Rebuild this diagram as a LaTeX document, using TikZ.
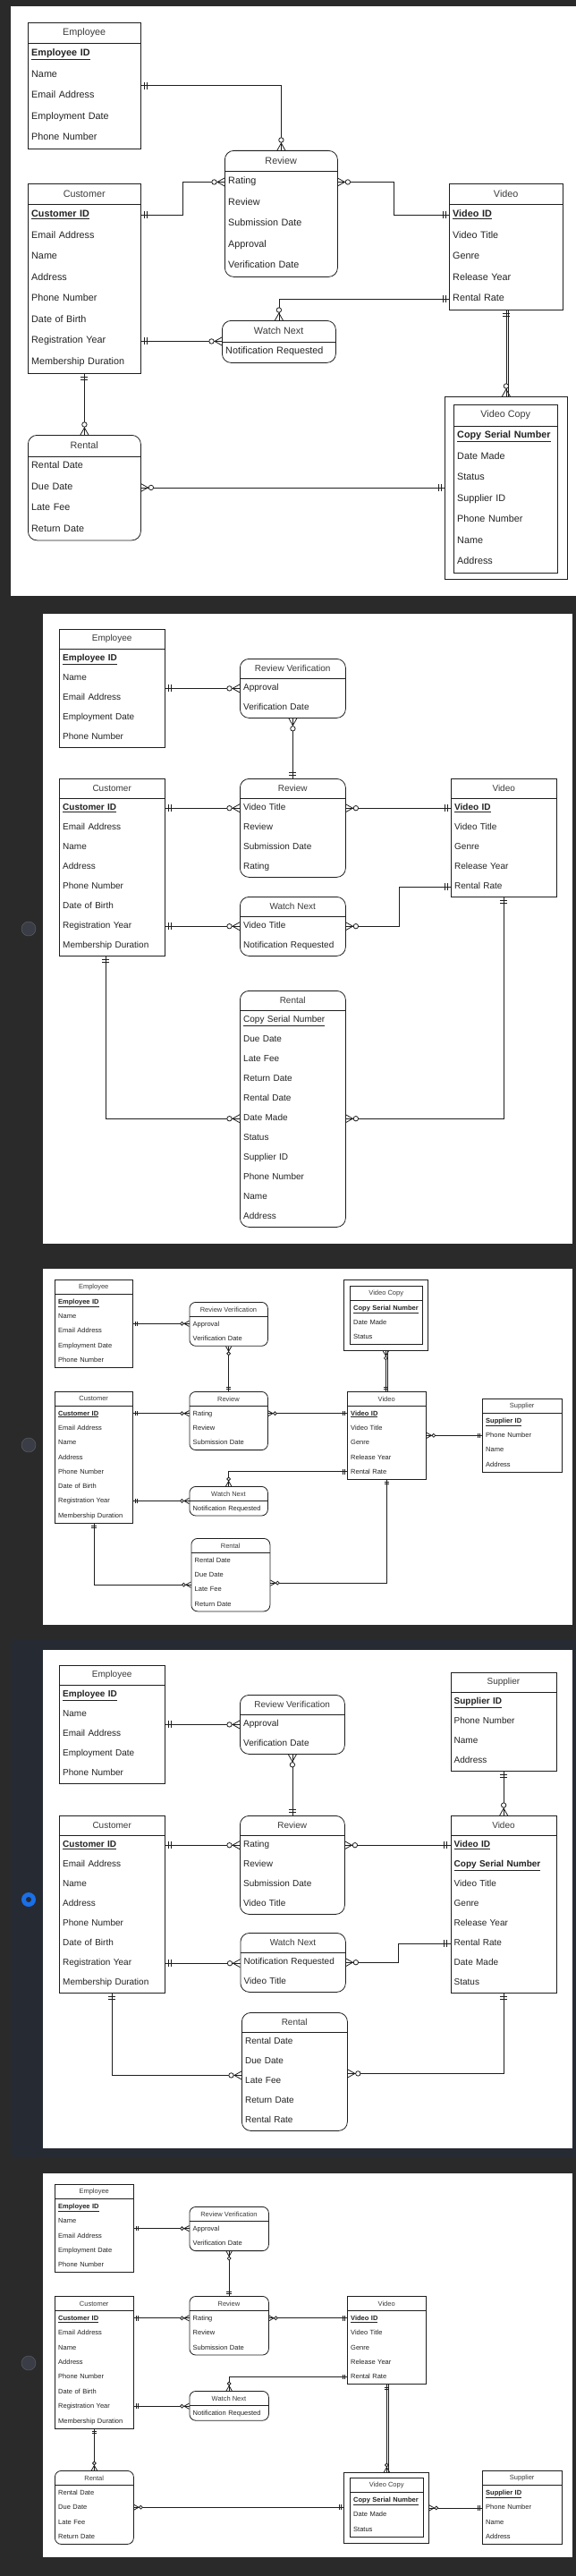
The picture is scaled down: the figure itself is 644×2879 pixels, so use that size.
\documentclass[tikz,border=0pt]{standalone}
\usepackage{fontspec}
\setmainfont{Liberation Sans}
\usetikzlibrary{decorations.markings}
\definecolor{canvas}{HTML}{2A2A2A}
\definecolor{hilite}{HTML}{262A33}
\definecolor{dotc}{HTML}{3A3D45}
\definecolor{radio}{HTML}{1B6FE6}
\definecolor{linec}{HTML}{1E1E1E}
\definecolor{ink}{HTML}{222222}
\definecolor{hdrink}{HTML}{3A3A3A}
\newcommand{\mks}{1}
\newcommand{\pk}[1]{\underline{\textbf{#1}}}
\tikzset{
  ent/.style={draw=linec,line width=0.8pt,anchor=north west,inner sep=0pt},
  soft/.style={rounded corners=#1},
  soft/.default=10pt,
  hdr/.style={anchor=north west,inner sep=0pt,text=hdrink},
  row/.style={anchor=north west,inner xsep=4pt,inner ysep=0pt,align=left,text=ink,
    text height=0.75em,text depth=0.25em},
  link/.style={draw=linec,line width=0.8pt},
  mkline/.style={draw=linec,line width=0.8pt},
  onefrom/.style={postaction={decorate,decoration={markings,
    mark=at position 4pt*\mks with {\draw[mkline] (0pt,-4pt*\mks) -- (0pt,4pt*\mks);},
    mark=at position 7pt*\mks with {\draw[mkline] (0pt,-4pt*\mks) -- (0pt,4pt*\mks);}}}},
  oneto/.style={postaction={decorate,decoration={markings,
    mark=at position -7pt*\mks with {\draw[mkline] (0pt,-4pt*\mks) -- (0pt,4pt*\mks);},
    mark=at position -4pt*\mks with {\draw[mkline] (0pt,-4pt*\mks) -- (0pt,4pt*\mks);}}}},
  manyfrom/.style={postaction={decorate,decoration={markings,
    mark=at position 8pt*\mks with {\draw[mkline] (-8pt*\mks,4.5pt*\mks) -- (0pt,0pt) -- (-8pt*\mks,-4.5pt*\mks);},
    mark=at position 11.5pt*\mks with {\draw[mkline,fill=white] (0pt,0pt) circle[radius=2.7pt*\mks];}}}},
  manyto/.style={postaction={decorate,decoration={markings,
    mark=at position -11.5pt*\mks with {\draw[mkline,fill=white] (0pt,0pt) circle[radius=2.7pt*\mks];},
    mark=at position -8pt*\mks with {\draw[mkline] (8pt*\mks,4.5pt*\mks) -- (0pt,0pt) -- (8pt*\mks,-4.5pt*\mks);}}}},
}
% entity box: [style] name, x, y, width, row height, title, rows
\newcommand{\erbox}[8][]{%
  \foreach \rowtxt [count=\i] in {#8} {\xdef\ern{\i}}
  \pgfmathsetmacro\erh{(\ern+1)*#6}
  \pgfmathsetmacro\erw{#5-8}
  \node[ent,#1,minimum width=#5pt,minimum height=\erh pt] (#2) at (#3,#4) {};
  \node[hdr,minimum width=#5pt,minimum height=#6pt] (#2-h) at (#3,#4) {#7};
  \draw[link] (#2-h.south west) -- (#2-h.south east);
  \foreach \rowtxt [count=\i] in {#8}
    \node[row,text width=\erw pt,minimum height=#6pt] (#2-\i) at (#3,{#4+\i*#6}) {\mbox{\rowtxt}};
}

\begin{document}
\begin{tikzpicture}[x=1pt,y=-1pt]
  \useasboundingbox (0,0) rectangle (644,2879);
  \fill[canvas] (0,0) rectangle (644,2879);
  \fill[hilite] (12,1832) rectangle (644,2412);
  \foreach \y in {1038,1615,2641} \filldraw[fill=dotc,draw=dotc!80!white] (32,\y) circle[radius=8pt];
  \fill[radio] (32,2123) circle[radius=8pt];
  \fill[hilite] (32,2123) circle[radius=3pt];

  % first draft
  \begin{scope}[font=\fontsize{10.8}{13}\selectfont]
    \fill[white] (12,7) rectangle (644,666);
    \erbox{emp1}{31}{25}{126}{23.5}{Employee}{\pk{Employee ID},Name,Email Address,Employment Date,Phone Number}
    \erbox{cust1}{31}{205}{126}{23.5}{Customer}{\pk{Customer ID},Email Address,Name,Address,Phone Number,Date of Birth,Registration Year,Membership Duration}
    \erbox[soft]{rev1}{251}{168}{126}{23.5}{Review}{Rating,Review,Submission Date,Approval,Verification Date}
    \erbox{vid1}{502}{205}{127}{23.5}{Video}{\pk{Video ID},Video Title,Genre,Release Year,Rental Rate}
    \erbox[soft]{wn1}{248}{358}{127}{23.5}{Watch Next}{Notification Requested}
    \erbox[soft]{rent1}{31}{486}{126}{23.5}{Rental}{Rental Date,Due Date,Late Fee,Return Date}
    \node[ent,minimum width=137pt,minimum height=204pt] (vco1) at (497,443) {};
    \erbox{vc1}{507}{452}{116}{23.5}{Video Copy}{\pk{Copy Serial Number},Date Made,Status,Supplier ID,Phone Number,Name,Address}

    \draw[link,onefrom,manyto] (emp1.east) -| (rev1.north);
    \draw[link,onefrom,manyto] (cust1-1.east) -- ++(47,0) |- (rev1-1.west);
    \draw[link,manyfrom,oneto] (rev1-1.east) -- ++(63,0) |- (vid1-1.west);
    \draw[link,manyfrom,oneto] (wn1.north) |- (vid1-5.west);
    \draw[link,onefrom,manyto] (cust1-7.east) -- (cust1-7.east -| wn1.west);
    \draw[link,onefrom,manyto] (cust1.south) -- (rent1.north);
    \draw[link,manyfrom,oneto] (rent1-2.east) -- (rent1-2.east -| vco1.west);
    \draw[link,onefrom,manyto] (vid1.south) -- (vco1.north);
    \draw[link] ([xshift=2pt]vid1.south) -- ([xshift=2pt]vco1.north);
  \end{scope}

  % second draft
  \begin{scope}[font=\fontsize{10}{12}\selectfont]
    \fill[white] (48,686) rectangle (640,1390);
    \erbox{emp2}{66}{703}{118}{22}{Employee}{\pk{Employee ID},Name,Email Address,Employment Date,Phone Number}
    \erbox[soft]{rv2}{268}{736}{118}{22}{Review Verification}{Approval,Verification Date}
    \erbox{cust2}{66}{870}{118}{22}{Customer}{\pk{Customer ID},Email Address,Name,Address,Phone Number,Date of Birth,Registration Year,Membership Duration}
    \erbox[soft]{rev2}{268}{870}{118}{22}{Review}{Video Title,Review,Submission Date,Rating}
    \erbox{vid2}{504}{870}{118}{22}{Video}{\pk{Video ID},Video Title,Genre,Release Year,Rental Rate}
    \erbox[soft]{wn2}{268}{1002}{118}{22}{Watch Next}{Video Title,Notification Requested}
    \erbox[soft]{rent2}{268}{1107}{118}{22}{Rental}{\underline{Copy Serial Number},Due Date,Late Fee,Return Date,Rental Date,Date Made,Status,Supplier ID,Phone Number,Name,Address}

    \draw[link,onefrom,manyto] (emp2.east) -- (emp2.east -| rv2.west);
    \draw[link,manyfrom,oneto] (rv2.south) -- (rev2.north);
    \draw[link,onefrom,manyto] (cust2-1.east) -- (rev2-1.west);
    \draw[link,manyfrom,oneto] (rev2-1.east) -- (vid2-1.west);
    \draw[link,manyfrom,oneto] (wn2-1.east) -- ++(60,0) |- (vid2-5.west);
    \draw[link,onefrom,manyto] (cust2-7.east) -- (wn2-1.west);
    \draw[link,onefrom,manyto] ([xshift=-7pt]cust2.south) |- (rent2-6.west);
    \draw[link,onefrom,manyto] (vid2.south) |- (rent2-6.east);
  \end{scope}

  % third draft
  \begin{scope}[font=\fontsize{7.5}{9}\selectfont]
    \renewcommand{\mks}{0.7}
    \fill[white] (48,1418) rectangle (640,1816);
    \erbox{emp3}{61}{1430}{87}{16.3}{Employee}{\pk{Employee ID},Name,Email Address,Employment Date,Phone Number}
    \erbox[soft=7pt]{rv3}{211.5}{1455}{87.5}{16.3}{Review Verification}{Approval,Verification Date}
    \node[ent,minimum width=94pt,minimum height=79pt] (vco3) at (384,1430) {};
    \erbox{vc3}{391}{1437}{81}{16.3}{Video Copy}{\pk{Copy Serial Number},Date Made,Status}
    \erbox{cust3}{61}{1555}{87}{16.3}{Customer}{\pk{Customer ID},Email Address,Name,Address,Phone Number,Date of Birth,Registration Year,Membership Duration}
    \erbox[soft=7pt]{rev3}{211.5}{1555}{87.5}{16.3}{Review}{Rating,Review,Submission Date}
    \erbox{vid3}{388}{1555}{88}{16.3}{Video}{\pk{Video ID},Video Title,Genre,Release Year,Rental Rate}
    \erbox{sup3}{539}{1563}{89}{16.3}{Supplier}{\pk{Supplier ID},Phone Number,Name,Address}
    \erbox[soft=7pt]{wn3}{211.5}{1661}{87.5}{16.3}{Watch Next}{Notification Requested}
    \erbox[soft=7pt]{rent3}{213.5}{1719}{88}{16.3}{Rental}{Rental Date,Due Date,Late Fee,Return Date}

    \draw[link,onefrom,manyto] (emp3.east) -- (emp3.east -| rv3.west);
    \draw[link,manyfrom,oneto] (rv3.south) -- (rv3.south |- rev3.north);
    \draw[link,onefrom,manyto] (cust3-1.east) -- (rev3-1.west);
    \draw[link,manyfrom,oneto] (rev3-1.east) -- (vid3-1.west);
    \draw[link,manyfrom,oneto] (vco3.south) -- (vco3.south |- vid3.north);
    \draw[link] ([xshift=1.5pt]vco3.south) -- ([xshift=1.5pt]vco3.south |- vid3.north);
    \draw[link,manyfrom,oneto] (vid3.east) -- (vid3.east -| sup3.west);
    \draw[link,manyfrom,oneto] (wn3.north) |- (vid3-5.west);
    \draw[link,onefrom,manyto] (cust3-7.east) -- (cust3-7.east -| wn3.west);
    \draw[link,onefrom,manyto] (cust3.south) |- ([yshift=-11pt]rent3.west);
    \draw[link,onefrom,manyto] (vid3.south) |- ([yshift=-9pt]rent3.east);
  \end{scope}

  % fourth draft
  \begin{scope}[font=\fontsize{10}{12}\selectfont]
    \fill[white] (48,1844) rectangle (640,2401);
    \erbox{emp4}{66}{1861}{118}{22}{Employee}{\pk{Employee ID},Name,Email Address,Employment Date,Phone Number}
    \erbox[soft]{rv4}{268}{1894}{117}{22}{Review Verification}{Approval,Verification Date}
    \erbox{sup4}{503.5}{1869}{118.5}{22}{Supplier}{\pk{Supplier ID},Phone Number,Name,Address}
    \erbox{cust4}{66}{2029}{118}{22}{Customer}{\pk{Customer ID},Email Address,Name,Address,Phone Number,Date of Birth,Registration Year,Membership Duration}
    \erbox[soft]{rev4}{268}{2029}{117}{22}{Review}{Rating,Review,Submission Date,Video Title}
    \erbox{vid4}{503.5}{2029}{118.5}{22}{Video}{\pk{Video ID},\pk{Copy Serial Number},Video Title,Genre,Release Year,Rental Rate,Date Made,Status}
    \erbox[soft]{wn4}{268.5}{2160}{117.5}{22}{Watch Next}{Notification Requested,Video Title}
    \erbox[soft]{rent4}{270}{2249}{118}{22}{Rental}{Rental Date,Due Date,Late Fee,Return Date,Rental Rate}

    \draw[link,onefrom,manyto] (emp4.east) -- (emp4.east -| rv4.west);
    \draw[link,manyfrom,oneto] (rv4.south) -- (rv4.south |- rev4.north);
    \draw[link,onefrom,manyto] (sup4.south) -- (sup4.south |- vid4.north);
    \draw[link,onefrom,manyto] (cust4-1.east) -- (rev4-1.west);
    \draw[link,manyfrom,oneto] (rev4-1.east) -- (vid4-1.west);
    \draw[link,manyfrom,oneto] (wn4-1.east) -- ++(59,0) |- (vid4-6.west);
    \draw[link,onefrom,manyto] (cust4-7.east) -- (cust4-7.east -| wn4.west);
    \draw[link,onefrom,manyto] (cust4.south) |- ([yshift=-4pt]rent4.west);
    \draw[link,onefrom,manyto] (vid4.south) |- ([yshift=-2pt]rent4.east);
  \end{scope}

  % fifth draft
  \begin{scope}[font=\fontsize{7.5}{9}\selectfont]
    \renewcommand{\mks}{0.7}
    \fill[white] (48,2429) rectangle (640,2858);
    \erbox{emp5}{61}{2441}{88}{16.4}{Employee}{\pk{Employee ID},Name,Email Address,Employment Date,Phone Number}
    \erbox[soft=7pt]{rv5}{211.5}{2466}{88.5}{16.4}{Review Verification}{Approval,Verification Date}
    \erbox{cust5}{61}{2566}{88}{16.4}{Customer}{\pk{Customer ID},Email Address,Name,Address,Phone Number,Date of Birth,Registration Year,Membership Duration}
    \erbox[soft=7pt]{rev5}{211.5}{2566}{88.5}{16.4}{Review}{Rating,Review,Submission Date}
    \erbox{vid5}{388}{2566}{88}{16.4}{Video}{\pk{Video ID},Video Title,Genre,Release Year,Rental Rate}
    \erbox[soft=7pt]{wn5}{211.5}{2672}{88.5}{16.4}{Watch Next}{Notification Requested}
    \erbox[soft=7pt]{rent5}{61}{2761}{88}{16.4}{Rental}{Rental Date,Due Date,Late Fee,Return Date}
    \node[ent,minimum width=95pt,minimum height=79pt] (vco5) at (384,2763) {};
    \erbox{vc5}{391}{2769}{82}{16.4}{Video Copy}{\pk{Copy Serial Number},Date Made,Status}
    \erbox{sup5}{539}{2761}{89}{16.4}{Supplier}{\pk{Supplier ID},Phone Number,Name,Address}

    \draw[link,onefrom,manyto] (emp5.east) -- (emp5.east -| rv5.west);
    \draw[link,manyfrom,oneto] (rv5.south) -- (rv5.south |- rev5.north);
    \draw[link,onefrom,manyto] (cust5-1.east) -- (rev5-1.west);
    \draw[link,manyfrom,oneto] (rev5-1.east) -- (vid5-1.west);
    \draw[link,manyfrom,oneto] (wn5.north) |- (vid5-5.west);
    \draw[link,onefrom,manyto] (cust5-7.east) -- (cust5-7.east -| wn5.west);
    \draw[link,onefrom,manyto] (cust5.south) -- (cust5.south |- rent5.north);
    \draw[link,manyfrom,oneto] (rent5-2.east) -- (rent5-2.east -| vco5.west);
    \draw[link,onefrom,manyto] (vid5.south) -- (vid5.south |- vco5.north);
    \draw[link] ([xshift=1.5pt]vid5.south) -- ([xshift=1.5pt]vid5.south |- vco5.north);
    \draw[link,manyfrom,oneto] (vco5.east) -- (vco5.east -| sup5.west);
  \end{scope}
\end{tikzpicture}
\end{document}
